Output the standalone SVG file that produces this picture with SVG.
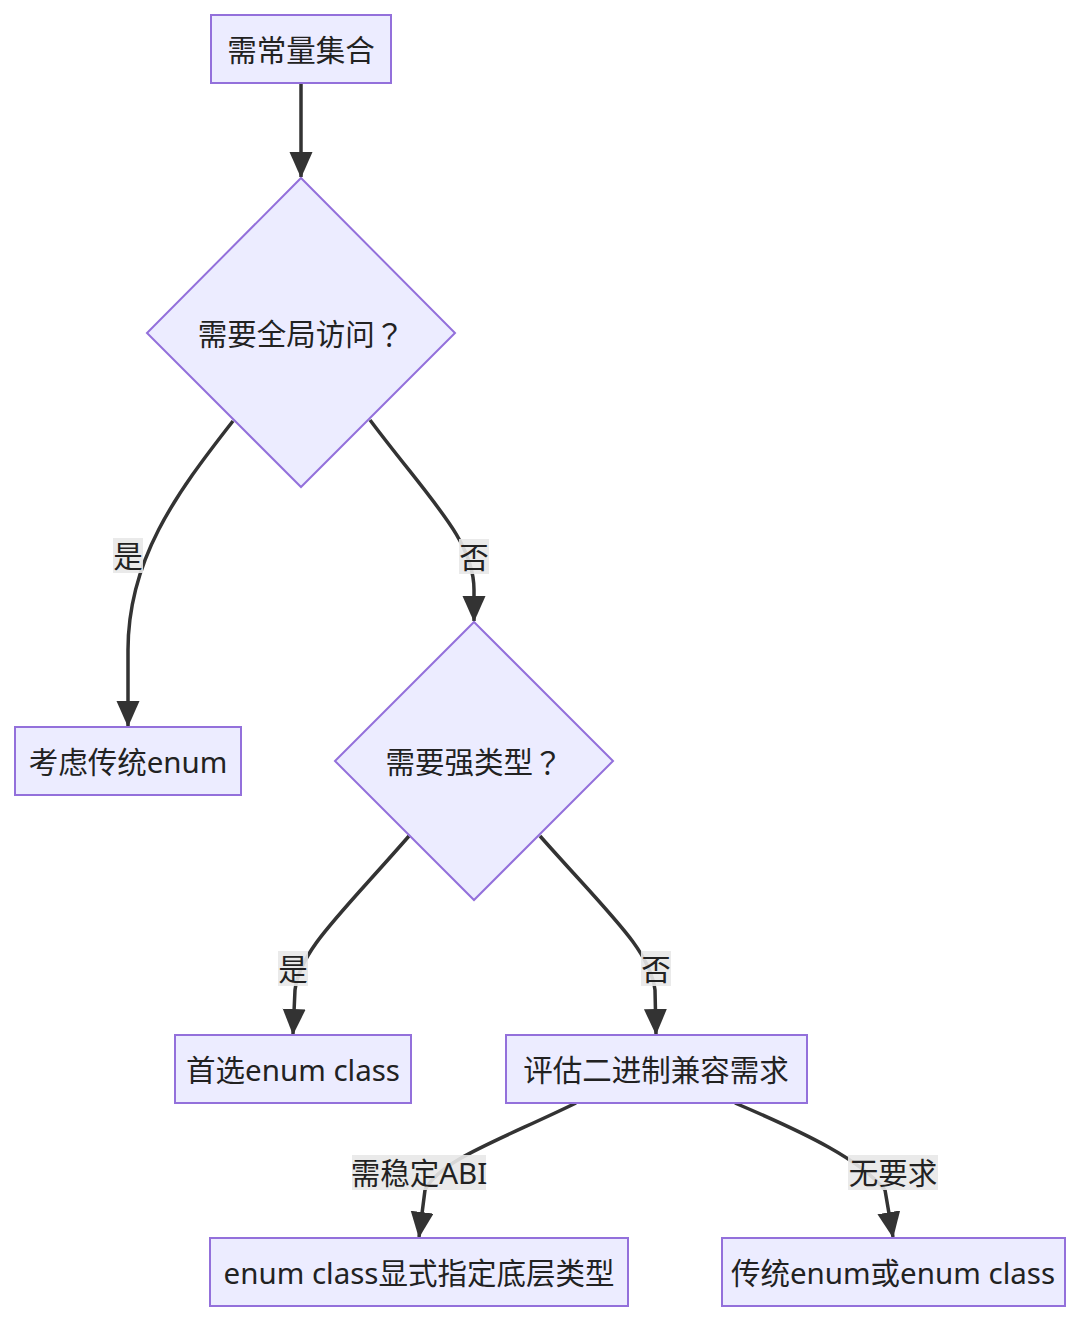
<svg xmlns="http://www.w3.org/2000/svg" width="1080" height="1321" viewBox="0 0 1080 1321">
<defs>
<style>
.node rect,.node polygon{fill:#ECECFF;stroke:#9370DB;stroke-width:2}
text{font-family:"Noto Sans","Noto Sans CJK SC",sans-serif;font-size:29.5px;fill:#222;text-anchor:middle;dominant-baseline:central}
.q{font-family:"Noto Sans CJK TC","Noto Sans CJK SC",sans-serif}
.edge{fill:none;stroke:#333;stroke-width:3.5}
.lbl rect{fill:#E8E8E8;opacity:0.9}
</style>
<marker id="arr" markerUnits="userSpaceOnUse" markerWidth="26" markerHeight="24" refX="25" refY="11.5" orient="auto">
<path d="M0,0 L26,11.5 L0,23 z" fill="#333"/>
</marker>
</defs>
<rect width="1080" height="1321" fill="#fff"/>
<g id="edges">
<path class="edge" d="M301,83 L301,177" marker-end="url(#arr)"/>
<path class="edge" d="M233,421 C175,495 128,560 128,650 L128,726" marker-end="url(#arr)"/>
<path class="edge" d="M370,420 C430,500 474,540 474,590 L474,621" marker-end="url(#arr)"/>
<path class="edge" d="M409,836 C340,915 300,950 295,990 L293,1034" marker-end="url(#arr)"/>
<path class="edge" d="M540,836 C610,915 650,950 655,990 L656,1034" marker-end="url(#arr)"/>
<path class="edge" d="M576,1103 C500,1140 440,1160 425,1190 L419,1237" marker-end="url(#arr)"/>
<path class="edge" d="M735,1103 C810,1135 860,1160 885,1190 L893,1237" marker-end="url(#arr)"/>
</g>
<g id="edge-labels">
<g class="lbl"><rect x="113" y="538" width="30" height="35"/><text x="128" y="555">是</text></g>
<g class="lbl"><rect x="459" y="539" width="30" height="35"/><text x="474" y="556">否</text></g>
<g class="lbl"><rect x="278" y="951" width="30" height="35"/><text x="293" y="968">是</text></g>
<g class="lbl"><rect x="641" y="951" width="30" height="35"/><text x="656" y="968">否</text></g>
<g class="lbl"><rect x="352" y="1155" width="134" height="35"/><text x="419" y="1172">需稳定ABI</text></g>
<g class="lbl"><rect x="848" y="1155" width="90" height="35"/><text x="893" y="1172">无要求</text></g>
</g>
<g id="n1" class="node"><rect x="211" y="15" width="180" height="68"/><text x="301" y="49">需常量集合</text></g>
<g id="n2" class="node"><polygon points="301,178 455,333 301,487 147,333"/><text x="301" y="333">需要全局访问<tspan class="q">？</tspan></text></g>
<g id="n3" class="node"><rect x="15" y="727" width="226" height="68"/><text x="128" y="761">考虑传统enum</text></g>
<g id="n4" class="node"><polygon points="474,622 613,761 474,900 335,761"/><text x="474" y="761">需要强类型<tspan class="q">？</tspan></text></g>
<g id="n5" class="node"><rect x="175" y="1035" width="236" height="68"/><text x="293" y="1069">首选enum class</text></g>
<g id="n6" class="node"><rect x="506" y="1035" width="301" height="68"/><text x="656" y="1069">评估二进制兼容需求</text></g>
<g id="n7" class="node"><rect x="210" y="1238" width="418" height="68"/><text x="419" y="1272">enum class显式指定底层类型</text></g>
<g id="n8" class="node"><rect x="722" y="1238" width="343" height="68"/><text x="893" y="1272">传统enum或enum class</text></g>
</svg>
